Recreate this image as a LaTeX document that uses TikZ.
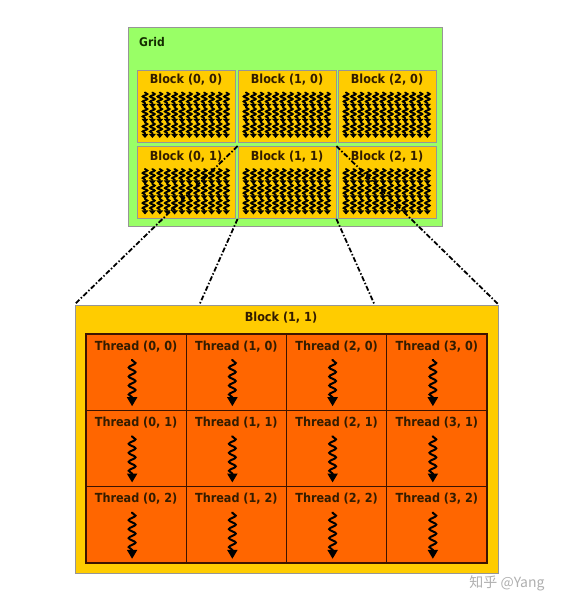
\documentclass[tikz,border=0pt]{standalone}
\usepackage{fontspec}
\setmainfont{DejaVu Sans Condensed}
\newfontfamily\cjkfont{Noto Sans CJK SC}
\usetikzlibrary{arrows.meta,decorations.pathmorphing}
\definecolor{gridgreen}{RGB}{153,255,102}
\definecolor{blockgold}{RGB}{255,204,0}
\definecolor{threadorange}{RGB}{255,102,0}
\definecolor{boxgray}{RGB}{150,150,150}
\definecolor{celledge}{RGB}{60,20,0}
\definecolor{txt}{RGB}{50,28,0}
\begin{document}
\begin{tikzpicture}[x=1pt,y=-1pt,
  gridbox/.style={draw=boxgray,fill=gridgreen,line width=1pt,minimum width=314pt,minimum height=199pt,inner sep=0pt},
  blkbox/.style={draw=boxgray,fill=blockgold,line width=0.8pt,minimum width=98pt,minimum height=72pt,inner sep=0pt},
  bigbox/.style={draw=boxgray,fill=blockgold,line width=1pt,minimum width=423pt,minimum height=268pt,inner sep=0pt},
  thbox/.style={draw=celledge,fill=threadorange,line width=1.2pt,minimum width=100.25pt,minimum height=76.3pt,inner sep=0pt},
  lbl/.style={font=\bfseries\fontsize{12.5}{15}\selectfont,text=txt,inner sep=0pt},
  small/.style={decorate,decoration={snake,segment length=5pt,amplitude=2.4pt,pre length=0.5pt,post length=3pt},line width=1.8pt,-{Triangle[width=6.5pt,length=4pt]}},
  thread/.style={decorate,decoration={snake,segment length=9pt,amplitude=3.4pt,pre length=1pt,post length=6pt},line width=2pt,-{Triangle[width=10pt,length=9pt]}},
  link/.style={line width=1.8pt,dash pattern=on 5pt off 2pt on 1.5pt off 2pt}]
\useasboundingbox (0,0) rectangle (568,609);
% grid
\node[gridbox] (grid) at (285,127.5) {};
\node[lbl,anchor=west,font=\bfseries\fontsize{12}{15}\selectfont,text={rgb,255:red,20;green,45;blue,0}] (gridlbl) at (139,42) {Grid};
\foreach \i/\x in {0/186,1/287,2/387}{
  \foreach \j/\y in {0/106,1/182.5}{
    \node[blkbox] (b\i\j) at (\x,\y) {};
    \node[lbl] (bl\i\j) at (\x,\y-26) {Block (\i, \j)};
    \foreach \c in {0,...,11}{
      \foreach \r in {0,1,2}{
        \draw[small] (\x-41+\c*7.4,\y-14+\r*15) -- (\x-41+\c*7.4,\y+2+\r*15);
      }
    }
  }
}
% big block
\node[bigbox] (big) at (286.5,439) {};
\node[lbl] (bigl) at (281,318) {Block (1, 1)};
\foreach \i in {0,1,2,3}{
  \foreach \j in {0,1,2}{
    \pgfmathsetmacro{\cx}{136.1+\i*100.25}
    \pgfmathsetmacro{\cy}{372.2+\j*76.3}
    \node[thbox] (t\i\j) at (\cx,\cy) {};
    \node[lbl] (tl\i\j) at (\cx,\cy-26) {Thread (\i, \j)};
    \draw[thread] (\cx-4,\cy-13) -- (\cx-4,\cy+34);
  }
}
% connectors
\draw[link] (b11.north west) -- (big.north west);
\draw[link] (b11.south west) -- ([xshift=125pt]big.north west);
\draw[link] (b11.south east) -- ([xshift=-124pt]big.north east);
\draw[link] (b11.north east) -- (big.north east);
% watermark
\node[font=\cjkfont\fontsize{14}{16}\selectfont,text={rgb,255:red,175;green,175;blue,175},inner sep=0pt] (wm) at (507,583) {知乎 @Yang};
\end{tikzpicture}
\end{document}
